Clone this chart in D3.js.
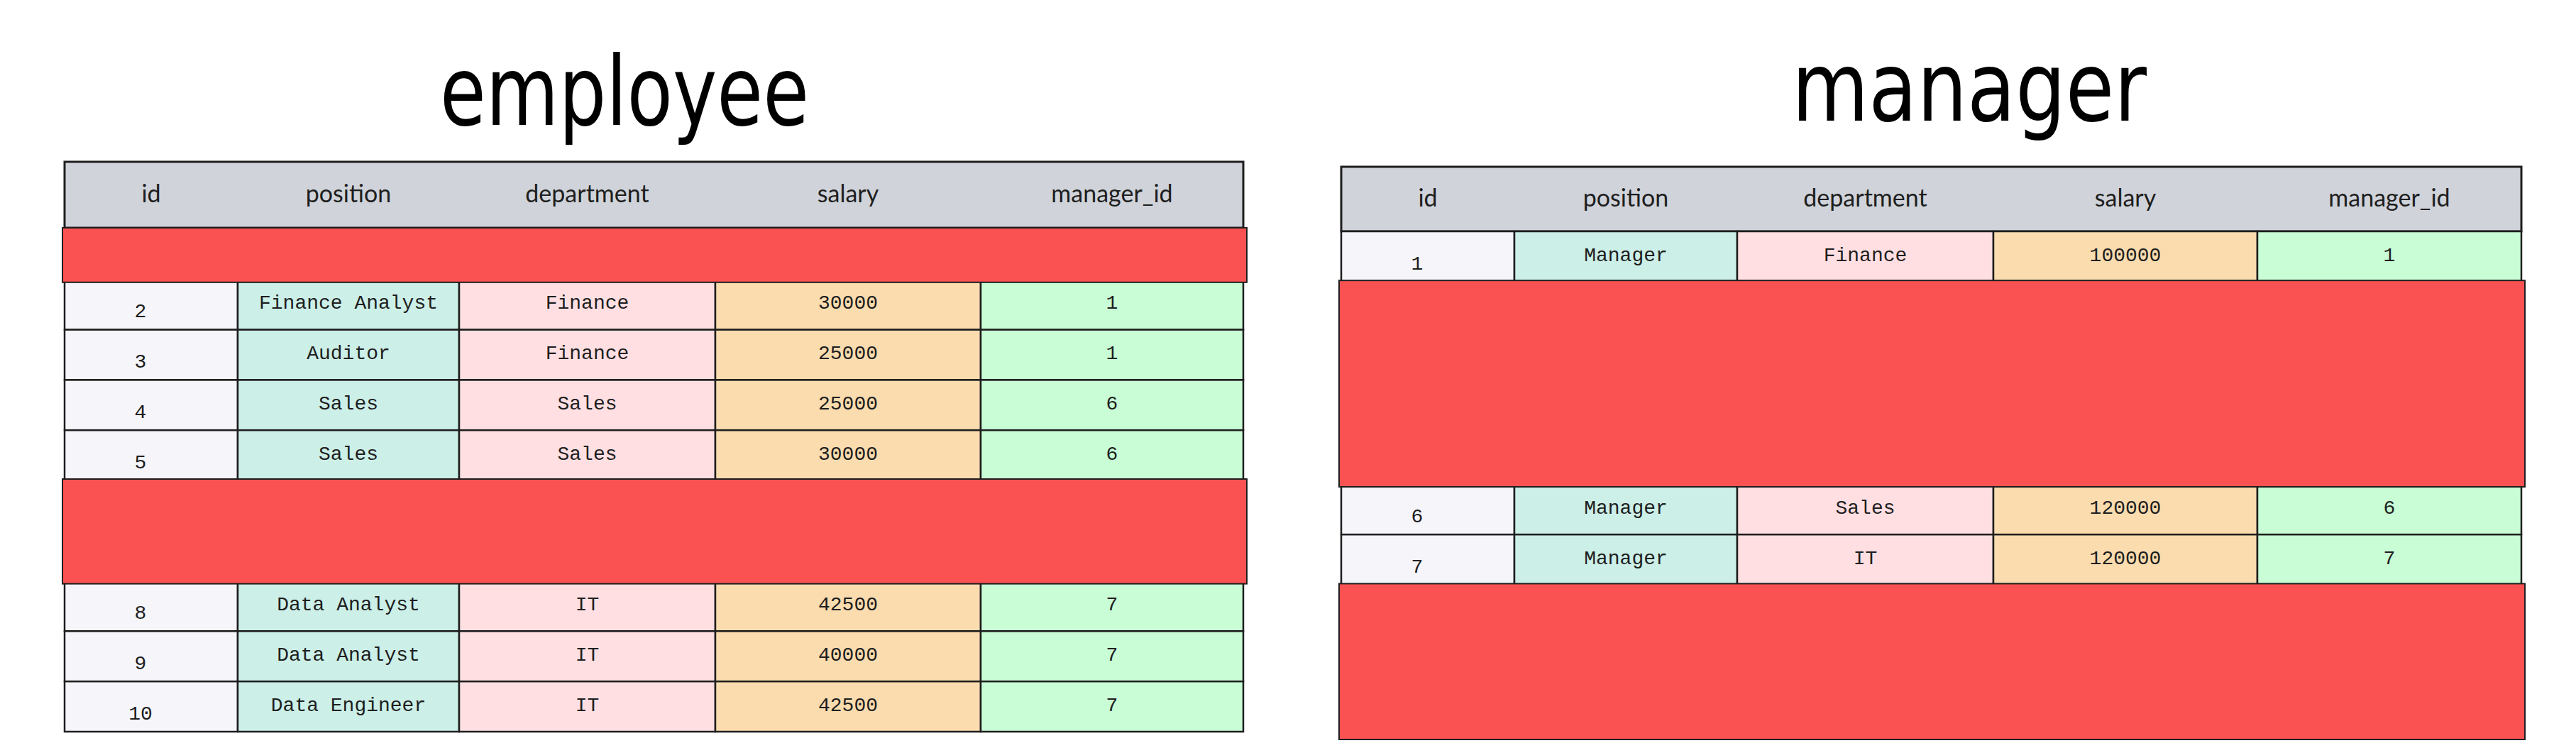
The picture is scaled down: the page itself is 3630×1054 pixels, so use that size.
<!DOCTYPE html>
<html>
<head>
<meta charset="utf-8">
<script src="https://cdn.jsdelivr.net/npm/d3@7"></script>
<style>
  body { margin: 0; background: #fff; }
</style>
</head>
<body>
<svg id="chart" width="3630" height="1054"></svg>
<script>
const columns = ["id", "position", "department", "salary", "manager_id"]
const colFill = ["#f5f5fa", "#ccefe8", "#ffdfe2", "#fadcaf", "#c8fdd6"]

// visible employee rows
const employeeIds = [2, 3, 4, 5, 8, 9, 10]
const employeePositions = ["Finance Analyst", "Auditor", "Sales", "Sales", "Data Analyst", "Data Analyst", "Data Engineer"]
const employeeDepartments = ["Finance", "Finance", "Sales", "Sales", "IT", "IT", "IT"]
const employeeSalaries = [30000, 25000, 25000, 30000, 42500, 40000, 42500]
const employeeManagers = [1, 1, 6, 6, 7, 7, 7]
const employeeHidden = [[1, 1], [6, 7]]

// visible manager rows
const managerIds = [1, 6, 7]
const managerPositions = ["Manager", "Manager", "Manager"]
const managerDepartments = ["Finance", "Sales", "IT"]
const managerSalaries = [100000, 120000, 120000]
const managerManagers = [1, 6, 7]
const managerHidden = [[2, 5], [8, 10]]

const allIds = d3.range(1, 11)
const svg = d3.select("#chart")

function drawTable(cfg) {
  const g = svg.append("g")
  const rows = cfg.ids.map((id, i) => [id, cfg.pos[i], cfg.dep[i], cfg.sal[i], cfg.mgr[i]])

  // unequal column widths, so an ordinal scale of column edges
  const x0 = d3.scaleOrdinal().domain(columns).range(cfg.edges.slice(0, 5))
  const x1 = d3.scaleOrdinal().domain(columns).range(cfg.edges.slice(1))
  const y = d3.scaleBand().domain(allIds).range(cfg.bodyY)

  g.append("text")
    .attr("x", cfg.titleX).attr("y", cfg.titleY)
    .attr("text-anchor", "middle")
    .attr("font-family", "DejaVu Sans").attr("font-size", 135)
    .attr("textLength", cfg.titleW).attr("lengthAdjust", "spacingAndGlyphs")
    .text(cfg.title)

  g.append("rect")
    .attr("x", cfg.edges[0]).attr("y", cfg.headY[0])
    .attr("width", cfg.edges[5] - cfg.edges[0]).attr("height", cfg.headY[1] - cfg.headY[0])
    .attr("fill", "#d0d4da").attr("stroke", "#1e1e1e").attr("stroke-width", 3)

  g.selectAll(".head").data(columns).join("text")
    .attr("x", d => (x0(d) + x1(d)) / 2)
    .attr("y", (cfg.headY[0] + cfg.headY[1]) / 2 + 10)
    .attr("text-anchor", "middle")
    .attr("font-family", "Lato").attr("font-size", 34)
    .attr("fill", "#1e1e1e")
    .text(d => d)

  const row = g.selectAll(".row").data(rows).join("g")
  columns.forEach((c, ci) => {
    row.append("rect")
      .attr("x", x0(c)).attr("y", d => y(d[0]))
      .attr("width", x1(c) - x0(c)).attr("height", y.bandwidth())
      .attr("fill", colFill[ci]).attr("stroke", "#1e1e1e").attr("stroke-width", 2.5)
    row.append("text")
      .attr("x", (x0(c) + x1(c)) / 2 - (ci === 0 ? 15 : 0))
      .attr("y", d => y(d[0]) + y.bandwidth() / 2 + (ci === 0 ? 18 : 6))
      .attr("text-anchor", "middle")
      .attr("font-family", "Liberation Mono").attr("font-size", 28)
      .attr("fill", "#1e1e1e")
      .text(d => d[ci])
  })

  g.selectAll(".mask").data(cfg.hidden).join("rect")
    .attr("x", cfg.edges[0] - 3)
    .attr("y", d => y(d[0]) - 2)
    .attr("width", cfg.edges[5] - cfg.edges[0] + 8)
    .attr("height", d => y(d[1]) + y.bandwidth() - y(d[0]) + 6)
    .attr("fill", "#fa5252").attr("stroke", "#1e1e1e").attr("stroke-width", 2)
}

drawTable({
  title: "employee", titleX: 880, titleY: 176, titleW: 520,
  edges: [91, 335, 647, 1008, 1382, 1752],
  headY: [228, 321], bodyY: [323, 1031],
  ids: employeeIds, pos: employeePositions, dep: employeeDepartments,
  sal: employeeSalaries, mgr: employeeManagers, hidden: employeeHidden
})

drawTable({
  title: "manager", titleX: 2775, titleY: 170, titleW: 500,
  edges: [1890, 2134, 2448, 2809, 3181, 3553],
  headY: [235, 326], bodyY: [326, 1038],
  ids: managerIds, pos: managerPositions, dep: managerDepartments,
  sal: managerSalaries, mgr: managerManagers, hidden: managerHidden
})
</script>
</body>
</html>
